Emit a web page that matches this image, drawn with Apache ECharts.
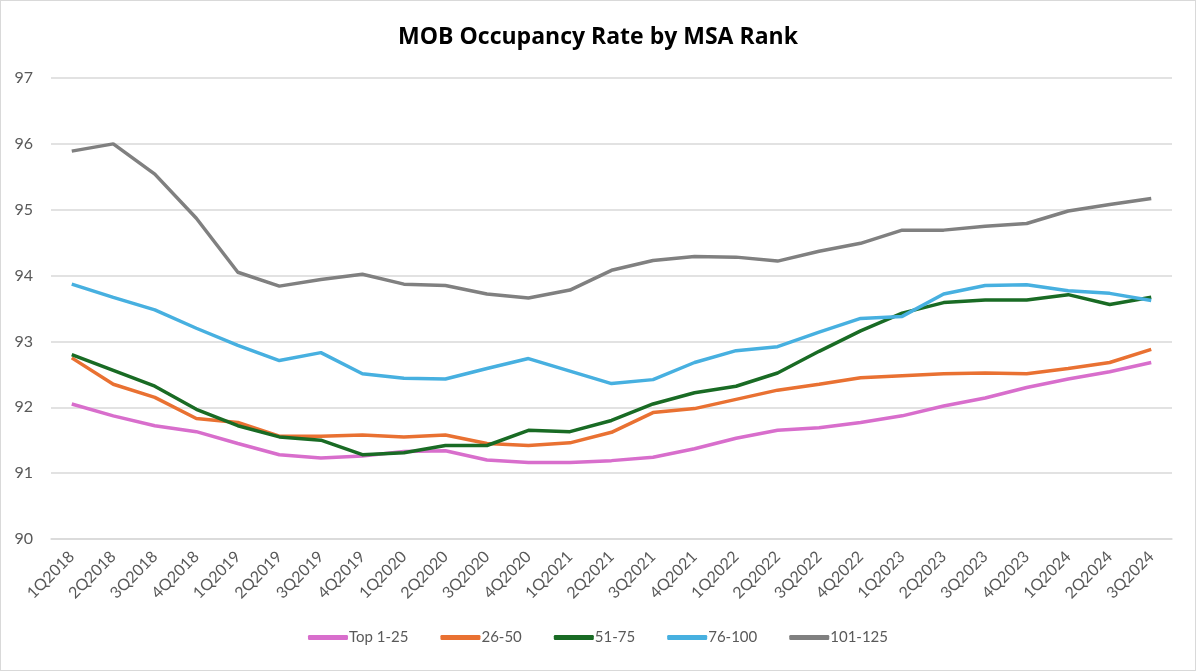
<!DOCTYPE html>
<html>
<head>
<meta charset="utf-8">
<script src="https://cdn.jsdelivr.net/npm/echarts@6/dist/echarts.min.js"></script>
<style>
  html, body { margin: 0; padding: 0; background: #fff; }
  #main { width: 1194px; height: 669px; border: 1px solid #d9d9d9; }
</style>
</head>
<body>
<div id="main"></div>
<script>
// quarters
var quarters = ['1Q2018','2Q2018','3Q2018','4Q2018','1Q2019','2Q2019','3Q2019','4Q2019',
    '1Q2020','2Q2020','3Q2020','4Q2020','1Q2021','2Q2021','3Q2021','4Q2021',
    '1Q2022','2Q2022','3Q2022','4Q2022','1Q2023','2Q2023','3Q2023','4Q2023',
    '1Q2024','2Q2024','3Q2024'];

var top1_25 = [92.05, 91.87, 91.72, 91.63, 91.45, 91.28, 91.23, 91.26, 91.33, 91.34, 91.20, 91.16, 91.16, 91.19,
    91.24, 91.37, 91.53, 91.65, 91.69, 91.77, 91.87, 92.02, 92.14, 92.30, 92.43, 92.54, 92.68];
var r26_50 = [92.75, 92.35, 92.15, 91.83, 91.77, 91.56, 91.56, 91.58, 91.55, 91.58, 91.45, 91.42, 91.46, 91.62,
    91.92, 91.98, 92.12, 92.26, 92.35, 92.45, 92.48, 92.51, 92.52, 92.51, 92.59, 92.68, 92.88];
var r51_75 = [92.80, 92.56, 92.32, 91.97, 91.72, 91.55, 91.50, 91.28, 91.31, 91.42, 91.42, 91.65, 91.63, 91.80,
    92.05, 92.22, 92.32, 92.52, 92.85, 93.16, 93.43, 93.59, 93.63, 93.63, 93.71, 93.56, 93.67];
var r76_100 = [93.87, 93.67, 93.48, 93.20, 92.94, 92.71, 92.83, 92.51, 92.44, 92.43, 92.59, 92.74, 92.55, 92.36,
    92.42, 92.68, 92.86, 92.92, 93.14, 93.35, 93.38, 93.72, 93.85, 93.86, 93.77, 93.73, 93.62];
var r101_125 = [95.89, 96.00, 95.54, 94.87, 94.05, 93.84, 93.94, 94.02, 93.87, 93.85, 93.72, 93.66, 93.78, 94.08,
    94.23, 94.29, 94.28, 94.22, 94.37, 94.49, 94.69, 94.69, 94.75, 94.79, 94.98, 95.08, 95.17];

var seriesNames = ['Top 1-25', '26-50', '51-75', '76-100', '101-125'];
var seriesData = [top1_25, r26_50, r51_75, r76_100, r101_125];
var colors = ['#D86ECC', '#E97132', '#196B24', '#47B0E0', '#808080'];

var chart = echarts.init(document.getElementById('main'));
var option = {
    color: colors,
    textStyle: { fontFamily: 'Lato, "Open Sans", sans-serif' },
    title: {
        text: 'MOB Occupancy Rate by MSA Rank',
        left: 'center',
        top: 20,
        textStyle: { fontSize: 23, fontWeight: 'bold', color: '#000', fontFamily: '"Open Sans", Lato, sans-serif' }
    },
    legend: {
        bottom: 20,
        left: 'center',
        itemWidth: 40,
        itemHeight: 5,
        itemGap: 32,
        icon: 'roundRect',
        textStyle: { color: '#595959', fontSize: 15, padding: [0, 0, 0, -4] },
        data: seriesNames
    },
    grid: {
        left: 50,
        right: 23,
        top: 77,
        bottom: 131
    },
    xAxis: {
        type: 'category',
        data: quarters,
        boundaryGap: true,
        axisTick: { show: false },
        axisLine: { lineStyle: { color: '#d9d9d9', width: 1.5 } },
        axisLabel: { rotate: 45, color: '#595959', fontSize: 16, margin: 15, interval: 0 }
    },
    yAxis: {
        type: 'value',
        min: 90,
        max: 97,
        interval: 1,
        axisLine: { show: false },
        axisTick: { show: false },
        axisLabel: { color: '#595959', fontSize: 16, margin: 18 },
        splitLine: { lineStyle: { color: '#d9d9d9', width: 1.5 } }
    },
    series: seriesNames.map(function (name, i) {
        return {
            name: name,
            type: 'line',
            data: seriesData[i],
            symbol: 'none',
            lineStyle: { width: 3.5 }
        };
    })
};
chart.setOption(option);
</script>
</body>
</html>
